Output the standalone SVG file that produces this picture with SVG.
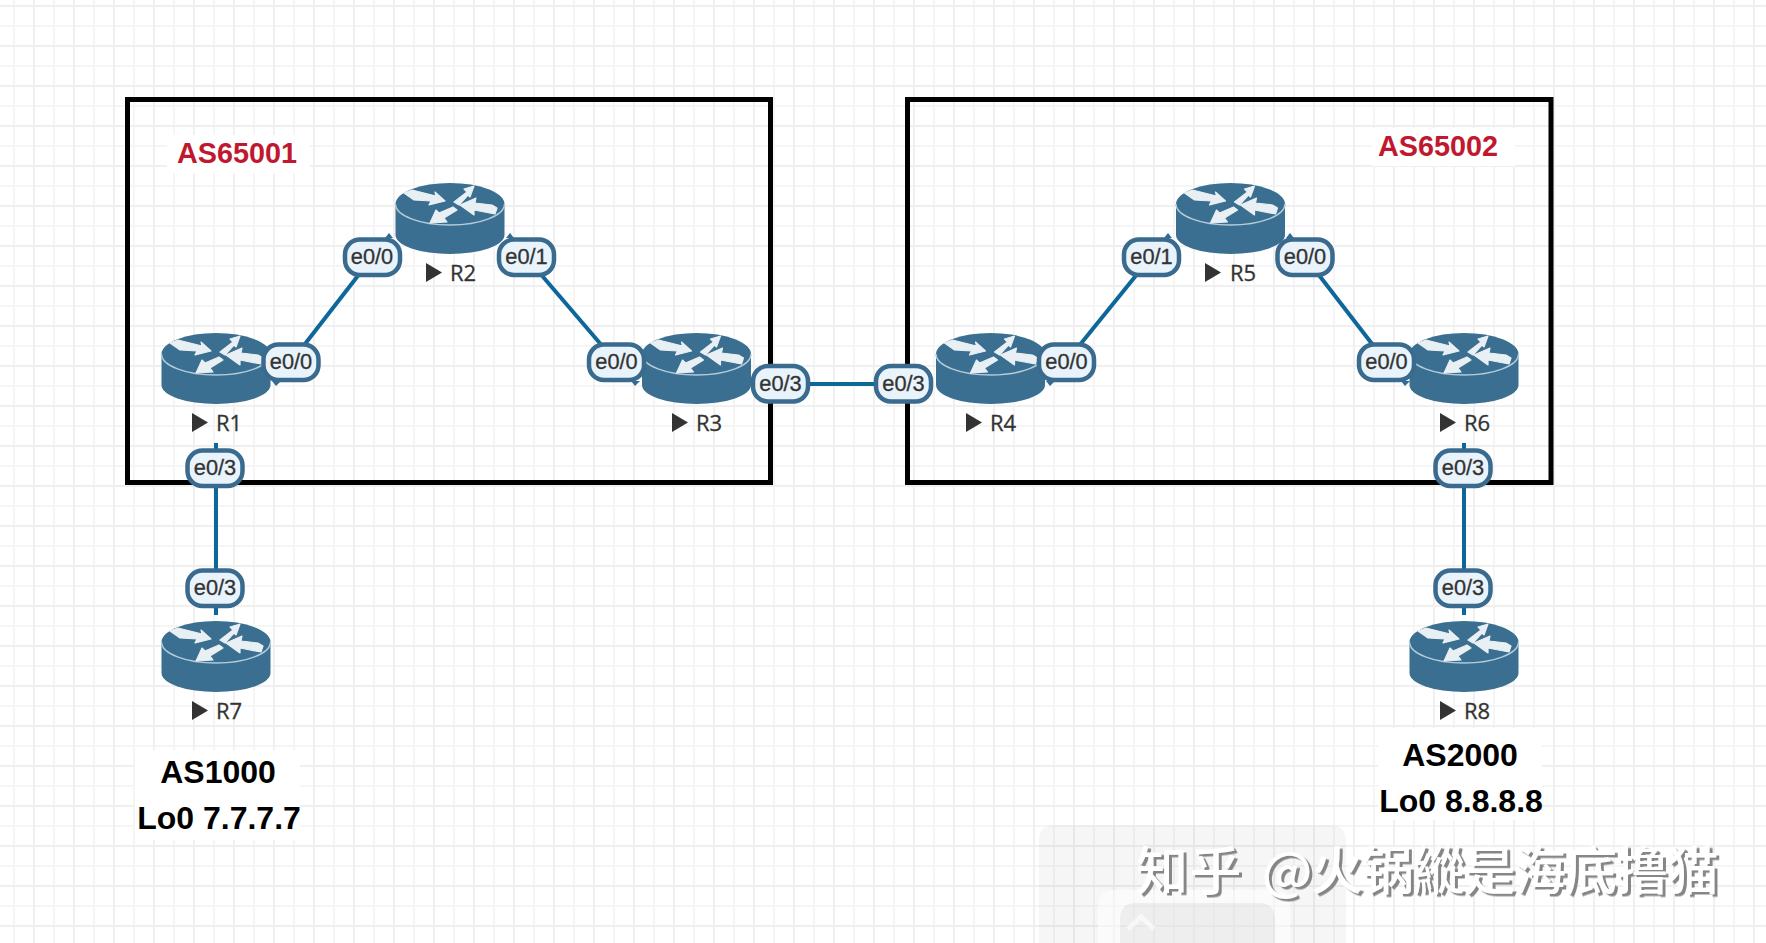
<svg xmlns="http://www.w3.org/2000/svg" width="1766" height="943" viewBox="0 0 1766 943">
<style>
.box{fill:none;stroke:#000;stroke-width:5}
.link{stroke:#0e679b;stroke-width:4;fill:none}
.pill{fill:#e8f3fb;stroke:#3a6b8e;stroke-width:4.500}
.tip{fill:#2f6c96}
.pt{font:21.800px "Liberation Sans",Arial,sans-serif;fill:#333;stroke:#333;stroke-width:.3;text-anchor:middle}
.rn{font:22px "Open Sans","Liberation Sans",sans-serif;fill:#333;stroke:#333;stroke-width:.3}
.as{font:bold 28.800px "Liberation Sans",Arial,sans-serif;fill:#c0192f}
.info{font:bold 32px "Liberation Sans",Arial,sans-serif;fill:#000;text-anchor:middle}
.patch{fill:#fff}
.wm{font:500 52px "Noto Sans CJK SC","Noto Sans",sans-serif;fill:#fff;filter:url(#sh)}
</style>
<defs>
<pattern id="grid" width="40" height="40" patternUnits="userSpaceOnUse">
<path d="M14 0V40M0 26H40" stroke="#f5f5f6" stroke-width="2" fill="none"/>
<path d="M34 0V40M0 6H40" stroke="#f0f0f1" stroke-width="2" fill="none"/>
</pattern>
<filter id="sh" x="-5%" y="-20%" width="110%" height="140%">
<feDropShadow dx="3" dy="2.500" stdDeviation="0.300" flood-color="#868686"/>
</filter>
<g id="router">
<path d="M-54.500 0V31A54.500 19 0 0 0 54.500 31V0Z" fill="#3a6f91"/>
<ellipse cx="0" cy="0" rx="54.500" ry="21" fill="#3a6f91"/>
<path d="M-54.500 0A54.500 21 0 0 0 54.500 0" fill="none" stroke="#b5ccd9" stroke-width="1.500"/>
<g fill="#e9f0f4" stroke="#e9f0f4" stroke-width="1.200" stroke-linejoin="round">
<polygon points="-46,-11 -38,-14 -14,-8 -15,-12 -5,-3 -21,1 -19,-3 -36,-4"/>
<polygon points="47,4 45,10 24,6 24,11 10,1 26,-6 25,-1 42,1"/>
<polygon points="4,-2 17,-12 14,-15 24,-18 20,-7 18,-9 9,1"/>
<polygon points="3,3 7,6 -6,14 -3,18 -20,19 -14,6 -11,9"/>
</g>
</g>
<g id="label">
<rect x="-27.500" y="-17.500" width="55" height="35.500" rx="15" class="pill"/>
</g>
<polygon id="play" points="0,0 16,9.500 0,19" fill="#333"/>
</defs>
<rect width="1766" height="943" fill="#fff"/>
<rect width="1766" height="943" fill="url(#grid)"/>

<g id="watermark-badge">
<path d="M1039 943V841Q1039 825 1055 825H1330Q1346 825 1346 841V943Z" fill="#000" fill-opacity=".035"/>
<path d="M1098 943V906Q1098 890 1114 890H1274Q1290 890 1290 906V943Z" fill="#fff" fill-opacity=".55"/>
<path d="M1120 943V919Q1120 903 1136 903H1259Q1275 903 1275 919V943Z" fill="#000" fill-opacity=".05"/>
<path d="M1128 929L1141 917L1154 929" fill="none" stroke="#fff" stroke-opacity=".6" stroke-width="5"/>
</g>

<g id="patches">
<rect class="patch" x="167" y="135" width="143" height="38"/>
<rect class="patch" x="1372" y="128" width="143" height="38"/>
<rect class="patch" x="135" y="750" width="165" height="90"/>
<rect class="patch" x="1378" y="728" width="164" height="92"/>
</g>

<g id="as65001-box"><rect class="box" x="127.500" y="99.500" width="643" height="383"/></g>
<g id="as65002-box"><rect class="box" x="907.500" y="99.500" width="643.500" height="383"/></g>

<g id="connectors">
<line class="link" x1="291" y1="362" x2="372.500" y2="257"/>
<line class="link" x1="526" y1="257" x2="616" y2="362"/>
<line class="link" x1="780" y1="384" x2="904" y2="384"/>
<line class="link" x1="1066" y1="362" x2="1151" y2="257"/>
<line class="link" x1="1305" y1="257" x2="1386" y2="362"/>
<line class="link" x1="216" y1="443" x2="216" y2="615"/>
<line class="link" x1="1464" y1="443" x2="1464" y2="615"/>
</g>

<g id="R1"><use href="#router" x="216" y="354"/><use href="#play" x="192" y="413"/><text class="rn" x="216" y="431">R1</text></g>
<g id="R2"><use href="#router" x="450" y="204"/><use href="#play" x="426" y="263"/><text class="rn" x="450" y="281">R2</text></g>
<g id="R3"><use href="#router" x="696.500" y="354"/><use href="#play" x="672" y="413"/><text class="rn" x="696" y="431">R3</text></g>
<g id="R4"><use href="#router" x="990.500" y="354"/><use href="#play" x="966" y="413"/><text class="rn" x="990" y="431">R4</text></g>
<g id="R5"><use href="#router" x="1230.500" y="204"/><use href="#play" x="1205" y="263"/><text class="rn" x="1230" y="281">R5</text></g>
<g id="R6"><use href="#router" x="1464" y="354"/><use href="#play" x="1440" y="413"/><text class="rn" x="1464" y="431">R6</text></g>
<g id="R7"><use href="#router" x="216" y="642"/><use href="#play" x="192" y="701"/><text class="rn" x="216" y="719">R7</text></g>
<g id="R8"><use href="#router" x="1464" y="642"/><use href="#play" x="1440" y="701"/><text class="rn" x="1464" y="719">R8</text></g>

<g id="interface-labels">
<polygon class="tip" points="272,381 281,381 276,386"/><use href="#label" x="291" y="362"/><text class="pt" x="291" y="369">e0/0</text>
<polygon class="tip" points="385,238 393,238 389,233"/><use href="#label" x="372.500" y="257"/><text class="pt" x="372" y="264">e0/0</text>
<polygon class="tip" points="506,238 514,238 510,233"/><use href="#label" x="526.500" y="257"/><text class="pt" x="526.500" y="264">e0/1</text>
<polygon class="tip" points="631,381 640,381 635,386"/><use href="#label" x="616.500" y="362"/><text class="pt" x="616.500" y="369">e0/0</text>
<use href="#label" x="780.500" y="383.500"/><text class="pt" x="780.500" y="391">e0/3</text>
<use href="#label" x="903.500" y="383.500"/><text class="pt" x="903.500" y="391">e0/3</text>
<polygon class="tip" points="1046,381 1055,381 1050,386"/><use href="#label" x="1066.500" y="362"/><text class="pt" x="1066.500" y="369">e0/0</text>
<polygon class="tip" points="1164,238 1172,238 1168,233"/><use href="#label" x="1151.500" y="257"/><text class="pt" x="1151.500" y="264">e0/1</text>
<polygon class="tip" points="1286,238 1294,238 1290,233"/><use href="#label" x="1305" y="257"/><text class="pt" x="1305" y="264">e0/0</text>
<polygon class="tip" points="1401,381 1410,381 1405,386"/><use href="#label" x="1386.500" y="362"/><text class="pt" x="1386.500" y="369">e0/0</text>
<use href="#label" x="215" y="468"/><text class="pt" x="215" y="475">e0/3</text>
<use href="#label" x="215" y="588"/><text class="pt" x="215" y="595">e0/3</text>
<use href="#label" x="1463" y="468"/><text class="pt" x="1463" y="475">e0/3</text>
<use href="#label" x="1463" y="588"/><text class="pt" x="1463" y="595">e0/3</text>
</g>

<g id="annotations">
<text class="as" x="177" y="163">AS65001</text>
<text class="as" x="1378" y="156">AS65002</text>
<text class="info" x="218" y="783">AS1000</text>
<text class="info" x="219" y="829">Lo0 7.7.7.7</text>
<text class="info" x="1460" y="766">AS2000</text>
<text class="info" x="1461" y="812">Lo0 8.8.8.8</text>
</g>

<text class="wm" x="1136" y="890"><tspan letter-spacing="1.500">知乎</tspan> <tspan dx="7" letter-spacing="-1.200">@火锅縱是海底撸猫</tspan></text>
</svg>
